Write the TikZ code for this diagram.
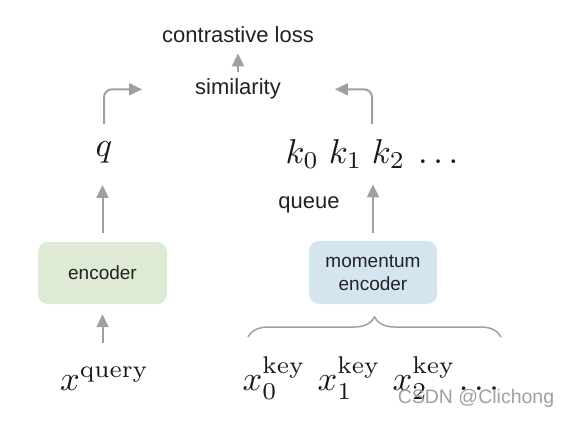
\documentclass[tikz,border=0pt]{standalone}
\usepackage{fontspec}
\newfontfamily\sansf{Liberation Sans}
\usetikzlibrary{arrows.meta,decorations.pathreplacing}
\definecolor{txt}{HTML}{222222}
\definecolor{arrc}{HTML}{A0A0A0}
\definecolor{encg}{HTML}{DFEAD4}
\definecolor{momb}{HTML}{D5E5F0}
\definecolor{wmc}{HTML}{A0A0A0}
\newcommand{\mybigmath}[1]{\scalebox{3.45}{$#1$}}
\begin{document}
\begin{tikzpicture}[x=1pt,y=-1pt,
  lbl/.style={font=\sansf\fontsize{22}{26}\selectfont, text=txt, inner sep=0pt, anchor=base},
  mth/.style={font=\fontsize{10}{12}\selectfont, text=black!90, inner sep=0pt, anchor=base},
  box/.style={rounded corners=10pt, minimum width=129pt, minimum height=62pt, inner sep=0pt,
              font=\sansf\fontsize{19}{23}\selectfont, text=txt, align=center},
  arr/.style={draw=arrc, line width=2pt, -{Triangle[width=12pt,length=13pt]}},
  brc/.style={draw=arrc, line width=1.5pt, decorate, decoration={brace, amplitude=20pt}},
]
\fill[white] (0,0) rectangle (584,428);
\useasboundingbox (0,0) rectangle (584,428);

\node[lbl] (loss) at (238,43) {contrastive loss};
\node[lbl] (sim) at (238,95) {similarity};
\node[mth] (q) at (104,156) {\mybigmath{q}};
\node[mth] (keys) at (372,163) {\mybigmath{k_0\hspace{2.8pt}k_1\hspace{2.8pt}k_2\hspace{2pt}\dots}};
\node[lbl] (queue) at (309,208) {queue};
\node[box, fill=encg] (enc) at (102.5,273) {encoder};
\node[box, fill=momb, minimum width=128pt, minimum height=63pt] (mom) at (373,272.5) {momentum\\encoder};

\node[mth] (xq) at (104.5,390) {\mybigmath{x^{\mathrm{query}}}};
\node[mth] (x0) at (274,390) {\mybigmath{x_0^{\mathrm{key}}}};
\node[mth] (x1) at (349,390) {\mybigmath{x_1^{\mathrm{key}}}};
\node[mth] (x2) at (424,390) {\mybigmath{x_2^{\mathrm{key}}}};
\node[mth] (xd) at (479,390) {\mybigmath{\dots}};

\coordinate (bl) at (248,337);
\coordinate (br) at (501,337);
\draw[brc] (bl) -- (br);

\draw[arr, shorten <=7pt, shorten >=10pt] (sim.north) -- (loss.south);
\draw[arr, shorten <=17pt, shorten >=53pt, rounded corners=8pt] (q.north) |- (sim.west);
\draw[arr, shorten <=15pt, shorten >=54pt, rounded corners=8pt] (keys.north) |- (sim.east);
\draw[arr, shorten <=9pt, shorten >=22pt] (enc.north) -- (enc.north |- q.south);
\draw[arr, shorten <=8pt, shorten >=16pt] (mom.north) -- (mom.north |- keys.south);
\draw[arr, shorten <=24pt, shorten >=10pt] (enc.south |- xq.north) -- (enc.south);

\node[font=\sansf\fontsize{19.5}{23}\selectfont, text=wmc, inner sep=0pt, anchor=base] (wm) at (476,403) {CSDN @Clichong};
\end{tikzpicture}
\end{document}
